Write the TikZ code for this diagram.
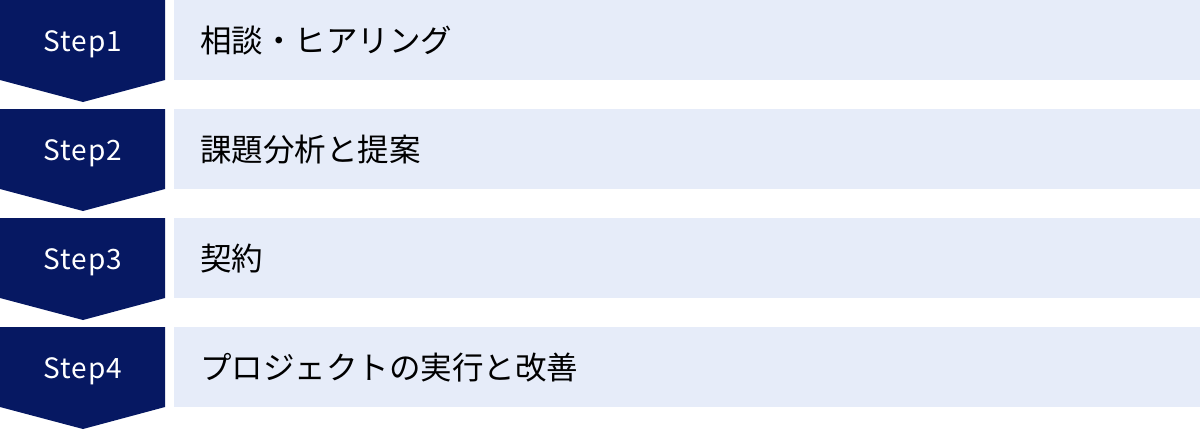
\documentclass[tikz,border=0pt]{standalone}
\usepackage{fontspec}
\setmainfont{Noto Sans CJK JP}
\newfontfamily\stepfont[LetterSpace=4]{Noto Sans CJK JP}
\usetikzlibrary{positioning}

\definecolor{stepnavy}{RGB}{6,24,98}
\definecolor{steplight}{RGB}{230,236,249}

\begin{document}
\begin{tikzpicture}[x=1pt, y=-1pt,
    steplabel/.style={anchor=base, text=white, font=\stepfont\fontsize{28}{28}\selectfont, inner sep=0pt},
    tasklabel/.style={anchor=west, text=black, font=\fontsize{31.5}{31.5}\selectfont, inner sep=0pt}]

                \useasboundingbox (0,0) rectangle (1200,429);

                % Step 1
                \fill[stepnavy] (0,0) -- (165,0) -- (165,80) -- (83,102) -- (0,80) -- cycle;
                \fill[steplight] (174,0) rectangle (1200,80);
                \node[steplabel] (s1) at (83,51) {Step1};
                \node[tasklabel] (t1) at (200,41) {相談・ヒアリング};

                % Step 2
                \fill[stepnavy] (0,109) -- (165,109) -- (165,189) -- (83,211) -- (0,189) -- cycle;
                \fill[steplight] (174,109) rectangle (1200,189);
                \node[steplabel] (s2) at (83,160) {Step2};
                \node[tasklabel] (t2) at (200,150) {課題分析と提案};

                % Step 3
                \fill[stepnavy] (0,218) -- (165,218) -- (165,298) -- (83,320) -- (0,298) -- cycle;
                \fill[steplight] (174,218) rectangle (1200,298);
                \node[steplabel] (s3) at (83,269) {Step3};
                \node[tasklabel] (t3) at (200,259) {契約};

                % Step 4
                \fill[stepnavy] (0,327) -- (165,327) -- (165,407) -- (83,429) -- (0,407) -- cycle;
                \fill[steplight] (174,327) rectangle (1200,407);
                \node[steplabel] (s4) at (83,378) {Step4};
                \node[tasklabel] (t4) at (200,368) {プロジェクトの実行と改善};

            \end{tikzpicture}
\end{document}
